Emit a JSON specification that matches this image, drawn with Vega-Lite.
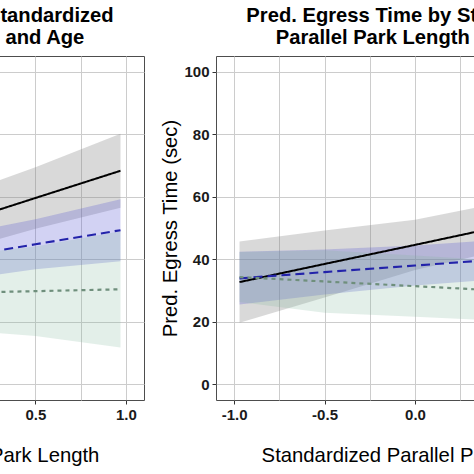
{
  "$schema": "https://vega.github.io/schema/vega-lite/v6.json",
  "padding": {"left": -310, "top": 5, "right": 0, "bottom": 0},
  "spacing": 15,
  "config": {
    "font": "Liberation Sans",
    "view": {"stroke": "#4d4d4d", "strokeWidth": 1},
    "title": {"fontSize": 20.2, "fontWeight": "bold", "color": "#000000", "frame": "group", "anchor": "middle", "lineHeight": 21.6, "offset": 8},
    "axis": {
      "domain": false,
      "gridColor": "#cccccc",
      "gridWidth": 1,
      "tickColor": "#333333",
      "tickSize": 4,
      "labelFontSize": 15,
      "labelFontWeight": "bold",
      "labelColor": "#1a1a1a",
      "labelPadding": 3,
      "titleFontSize": 20.3,
      "titleFontWeight": "normal",
      "titleColor": "#000000"
    }
  },
  "datasets": {
    "fits": [
      {"panel": "A", "grp": "g1", "x": -0.97, "fit": 32.4, "lo": 19.4, "hi": 45.4},
      {"panel": "A", "grp": "g1", "x": -0.5, "fit": 41.1, "lo": 30.6, "hi": 51.6},
      {"panel": "A", "grp": "g1", "x": 0.0, "fit": 50.3, "lo": 41.5, "hi": 59.1},
      {"panel": "A", "grp": "g1", "x": 0.5, "fit": 59.6, "lo": 49.8, "hi": 69.4},
      {"panel": "A", "grp": "g1", "x": 0.97, "fit": 68.3, "lo": 56.5, "hi": 80.1},
      {"panel": "A", "grp": "g2", "x": -0.97, "fit": 30.5, "lo": 20.5, "hi": 40.5},
      {"panel": "A", "grp": "g2", "x": -0.5, "fit": 35.1, "lo": 26.9, "hi": 43.3},
      {"panel": "A", "grp": "g2", "x": 0.0, "fit": 39.9, "lo": 32.7, "hi": 47.1},
      {"panel": "A", "grp": "g2", "x": 0.5, "fit": 44.8, "lo": 36.8, "hi": 52.8},
      {"panel": "A", "grp": "g2", "x": 0.97, "fit": 49.3, "lo": 39.4, "hi": 59.2},
      {"panel": "A", "grp": "g3", "x": -0.97, "fit": 28.1, "lo": 10.6, "hi": 45.6},
      {"panel": "A", "grp": "g3", "x": -0.5, "fit": 28.6, "lo": 15.1, "hi": 42.1},
      {"panel": "A", "grp": "g3", "x": 0.0, "fit": 29.2, "lo": 17.7, "hi": 40.7},
      {"panel": "A", "grp": "g3", "x": 0.5, "fit": 29.8, "lo": 15.5, "hi": 44.1},
      {"panel": "A", "grp": "g3", "x": 0.97, "fit": 30.4, "lo": 11.8, "hi": 49.0},
      {"panel": "B", "grp": "g1", "x": -0.97, "fit": 32.7, "lo": 19.7, "hi": 45.7},
      {"panel": "B", "grp": "g1", "x": -0.5, "fit": 38.5, "lo": 27.8, "hi": 49.2},
      {"panel": "B", "grp": "g1", "x": 0.0, "fit": 44.6, "lo": 36.6, "hi": 52.6},
      {"panel": "B", "grp": "g1", "x": 0.5, "fit": 50.8, "lo": 43.2, "hi": 58.4},
      {"panel": "B", "grp": "g1", "x": 0.97, "fit": 56.6, "lo": 47.1, "hi": 66.1},
      {"panel": "B", "grp": "g2", "x": -0.97, "fit": 33.9, "lo": 25.5, "hi": 42.4},
      {"panel": "B", "grp": "g2", "x": -0.5, "fit": 35.9, "lo": 28.7, "hi": 43.1},
      {"panel": "B", "grp": "g2", "x": 0.0, "fit": 38.0, "lo": 31.6, "hi": 44.4},
      {"panel": "B", "grp": "g2", "x": 0.5, "fit": 40.1, "lo": 33.8, "hi": 46.4},
      {"panel": "B", "grp": "g2", "x": 0.97, "fit": 42.1, "lo": 34.6, "hi": 49.6},
      {"panel": "B", "grp": "g3", "x": -0.97, "fit": 34.3, "lo": 26.3, "hi": 42.3},
      {"panel": "B", "grp": "g3", "x": -0.5, "fit": 32.9, "lo": 22.9, "hi": 42.9},
      {"panel": "B", "grp": "g3", "x": 0.0, "fit": 31.4, "lo": 21.6, "hi": 41.2},
      {"panel": "B", "grp": "g3", "x": 0.5, "fit": 29.9, "lo": 20.3, "hi": 39.5},
      {"panel": "B", "grp": "g3", "x": 0.97, "fit": 28.5, "lo": 17.5, "hi": 39.5}
    ]
  },
  "hconcat": [
    {
      "title": {"text": ["Pred. Egress Time by Standardized", "Parallel Park Length and Age"]},
      "width": 398,
      "height": 344,
      "data": {"name": "fits"},
      "transform": [{"filter": "datum.panel === 'A'"}],
      "layer": [
        {
          "mark": {"type": "area", "clip": true},
          "encoding": {
            "x": {"field": "x", "type": "quantitative", "scale": {"domain": [-1.1, 1.1], "nice": false, "zero": false},
              "axis": {"values": [-1, -0.75, -0.5, -0.25, 0, 0.25, 0.5, 0.75, 1], "title": "Standardized Parallel Park Length", "titlePadding": 23,
                "labelExpr": "abs(datum.value * 2 - round(datum.value * 2)) > 0.01 ? '' : replace(format(datum.value, '.1f'), '\u2212', '-')",
                "tickOpacity": {"condition": {"test": "abs(datum.value * 2 - round(datum.value * 2)) > 0.01", "value": 0}, "value": 1}}},
            "y": {"field": "lo", "type": "quantitative", "scale": {"domain": [-5, 105], "nice": false, "zero": false},
              "axis": {"values": [0, 10, 20, 30, 40, 50, 60, 70, 80, 90, 100], "title": "Pred. Egress Time (sec)", "titlePadding": 3,
                "labelExpr": "datum.value % 20 === 0 ? datum.label : ''",
                "tickOpacity": {"condition": {"test": "datum.value % 20 !== 0", "value": 0}, "value": 1}}},
            "y2": {"field": "hi"},
            "fill": {"field": "grp", "type": "nominal", "scale": {"domain": ["g1", "g2", "g3"], "range": ["#808080", "#5050d0", "#7fb89a"]}, "legend": null},
            "opacity": {"field": "grp", "type": "nominal", "scale": {"domain": ["g1", "g2", "g3"], "range": [0.3, 0.22, 0.2]}, "legend": null}
          }
        },
        {
          "mark": {"type": "line", "clip": true},
          "encoding": {
            "x": {"field": "x", "type": "quantitative"},
            "y": {"field": "fit", "type": "quantitative"},
            "stroke": {"field": "grp", "type": "nominal", "scale": {"domain": ["g1", "g2", "g3"], "range": ["#000000", "#2323aa", "#6f8f7c"]}, "legend": null},
            "strokeDash": {"field": "grp", "type": "nominal", "scale": {"domain": ["g1", "g2", "g3"], "range": [[1, 0], [9, 5], [4, 4]]}, "legend": null},
            "strokeWidth": {"field": "grp", "type": "nominal", "scale": {"domain": ["g1", "g2", "g3"], "range": [2, 2.2, 2]}, "legend": null}
          }
        }
      ]
    },
    {
      "title": {"text": ["Pred. Egress Time by Standardized", "Parallel Park Length and Age"]},
      "width": 398,
      "height": 344,
      "data": {"name": "fits"},
      "transform": [{"filter": "datum.panel === 'B'"}],
      "layer": [
        {
          "mark": {"type": "area", "clip": true},
          "encoding": {
            "x": {"field": "x", "type": "quantitative", "scale": {"domain": [-1.1, 1.1], "nice": false, "zero": false},
              "axis": {"values": [-1, -0.75, -0.5, -0.25, 0, 0.25, 0.5, 0.75, 1], "title": "Standardized Parallel Park Length", "titlePadding": 23,
                "labelExpr": "abs(datum.value * 2 - round(datum.value * 2)) > 0.01 ? '' : replace(format(datum.value, '.1f'), '\u2212', '-')",
                "tickOpacity": {"condition": {"test": "abs(datum.value * 2 - round(datum.value * 2)) > 0.01", "value": 0}, "value": 1}}},
            "y": {"field": "lo", "type": "quantitative", "scale": {"domain": [-5, 105], "nice": false, "zero": false},
              "axis": {"values": [0, 10, 20, 30, 40, 50, 60, 70, 80, 90, 100], "title": "Pred. Egress Time (sec)", "titlePadding": 3,
                "labelExpr": "datum.value % 20 === 0 ? datum.label : ''",
                "tickOpacity": {"condition": {"test": "datum.value % 20 !== 0", "value": 0}, "value": 1}}},
            "y2": {"field": "hi"},
            "fill": {"field": "grp", "type": "nominal", "scale": {"domain": ["g1", "g2", "g3"], "range": ["#808080", "#5050d0", "#7fb89a"]}, "legend": null},
            "opacity": {"field": "grp", "type": "nominal", "scale": {"domain": ["g1", "g2", "g3"], "range": [0.3, 0.22, 0.2]}, "legend": null}
          }
        },
        {
          "mark": {"type": "line", "clip": true},
          "encoding": {
            "x": {"field": "x", "type": "quantitative"},
            "y": {"field": "fit", "type": "quantitative"},
            "stroke": {"field": "grp", "type": "nominal", "scale": {"domain": ["g1", "g2", "g3"], "range": ["#000000", "#2323aa", "#6f8f7c"]}, "legend": null},
            "strokeDash": {"field": "grp", "type": "nominal", "scale": {"domain": ["g1", "g2", "g3"], "range": [[1, 0], [9, 5], [4, 4]]}, "legend": null},
            "strokeWidth": {"field": "grp", "type": "nominal", "scale": {"domain": ["g1", "g2", "g3"], "range": [2, 2.2, 2]}, "legend": null}
          }
        }
      ]
    }
  ]
}
